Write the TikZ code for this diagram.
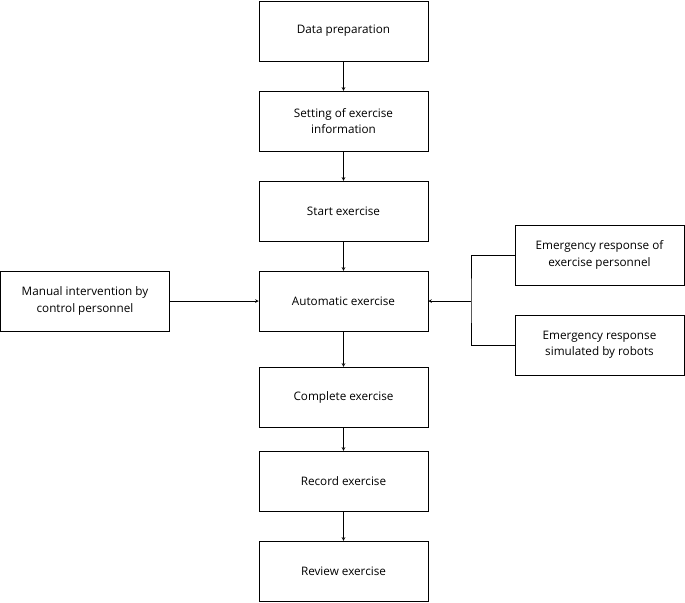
\documentclass[tikz,border=0pt]{standalone}
\usepackage{fontspec}
\setmainfont{Open Sans}
\begin{document}
\begin{tikzpicture}[x=0.03cm, y=-0.03cm,
  stepbox/.style={rectangle, draw, minimum width=5.07cm, minimum height=1.8cm, align=center, font=\fontsize{10}{14}\selectfont, inner sep=0pt},
  arrow/.style={->, >=stealth}
]
  \useasboundingbox (0,0) rectangle (685,602);
  % Main column
  \node[stepbox] (prep) at (343.5,31) {Data preparation};
  \node[stepbox] (setting) at (343.5,121) {Setting of exercise\\information};
  \node[stepbox] (start) at (343.5,211) {Start exercise};
  \node[stepbox] (auto) at (343.5,301) {Automatic exercise};
  \node[stepbox] (complete) at (343.5,397) {Complete exercise};
  \node[stepbox] (record) at (343.5,481) {Record exercise};
  \node[stepbox] (review) at (343.5,571) {Review exercise};

  % Side inputs
  \node[stepbox] (manual) at (85,301) {Manual intervention by\\control personnel};
  \node[stepbox] (personnel) at (599.5,255) {Emergency response of\\exercise personnel};
  \node[stepbox] (robots) at (599.5,345) {Emergency response\\simulated by robots};
  \coordinate (join) at (471,301);

  % Arrows
  \draw[arrow] (prep) -- (setting);
  \draw[arrow] (setting) -- (start);
  \draw[arrow] (start) -- (auto);
  \draw[arrow] (auto) -- (complete);
  \draw[arrow] (complete) -- (record);
  \draw[arrow] (record) -- (review);
  \draw[arrow] (manual) -- (auto);
  \draw (personnel.west) -| (join) |- (robots.west);
  \draw[arrow] (join) -- (auto);
\end{tikzpicture}
\end{document}
